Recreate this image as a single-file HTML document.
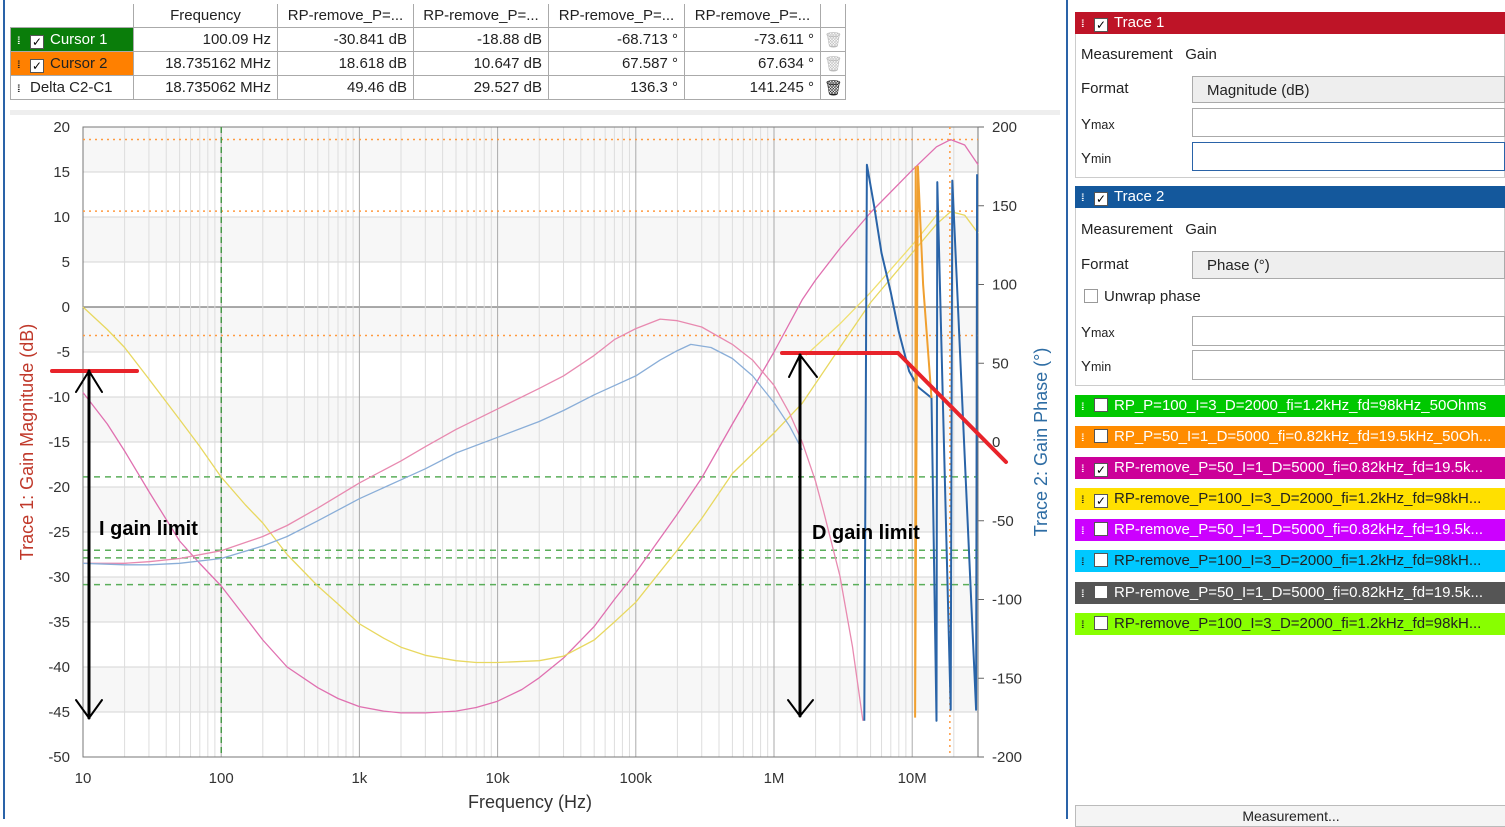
<!DOCTYPE html>
<html><head><meta charset="utf-8">
<style>
body{margin:0;width:1505px;height:819px;overflow:hidden;background:#fff;font-family:"Liberation Sans",sans-serif;font-size:15px;color:#222;position:relative}
.abs{position:absolute}
table.cur{position:absolute;left:10px;top:4px;border-collapse:collapse;font-size:15px;table-layout:fixed;width:835px}
table.cur td{border:1px solid #aaa;height:23px;padding:0 6px;text-align:right;white-space:nowrap;overflow:hidden}
table.cur tr:first-child td{text-align:center;border-top:none}
.cb{display:inline-block;width:12px;height:12px;border:1px solid #555;background:#fff;vertical-align:-2px;margin-right:6px;font-size:12px;line-height:12px;text-align:center;color:#000}
.grip{display:inline-block;width:8px;margin-right:5px;letter-spacing:-2px;font-size:10px}
.hdr{position:absolute;left:1075px;width:430px;height:22px;color:#fff;line-height:22px}
.lbl{position:absolute;left:1081px}
.box{position:absolute;left:1192px;width:313px;border:1px solid #aaa;box-sizing:border-box}
.leg{position:absolute;left:1075px;width:430px;height:22px;line-height:22px;white-space:nowrap;overflow:hidden}
</style></head><body>
<div class="abs" style="left:3px;top:0;width:2px;height:819px;background:#2a63a8"></div>
<div class="abs" style="left:1066px;top:0;width:2px;height:819px;background:#2a63a8"></div>
<div class="abs" style="left:10px;top:110px;width:1050px;height:5px;background:#eee"></div>
<table class="cur">
<colgroup><col style="width:123px"><col style="width:144px"><col style="width:136px"><col style="width:135px"><col style="width:136px"><col style="width:136px"><col style="width:25px"></colgroup>
<tr><td style="border-left:none"></td><td>Frequency</td><td>RP-remove_P=...</td><td>RP-remove_P=...</td><td>RP-remove_P=...</td><td>RP-remove_P=...</td><td></td></tr>
<tr><td style="background:#0a7d0a;color:#fff;text-align:left"><span class="grip">⁞⁞</span><span class="cb">✓</span>Cursor 1</td><td>100.09 Hz</td><td>-30.841 dB</td><td>-18.88 dB</td><td>-68.713 °</td><td>-73.611 °</td><td style="color:#bbb;padding:0 2px">🗑</td></tr>
<tr><td style="background:#ff8000;color:#222;text-align:left"><span class="grip">⁞⁞</span><span class="cb">✓</span>Cursor 2</td><td>18.735162 MHz</td><td>18.618 dB</td><td>10.647 dB</td><td>67.587 °</td><td>67.634 °</td><td style="color:#bbb;padding:0 2px">🗑</td></tr>
<tr><td style="text-align:left"><span class="grip">⁞⁞</span>Delta C2-C1</td><td>18.735062 MHz</td><td>49.46 dB</td><td>29.527 dB</td><td>136.3 °</td><td>141.245 °</td><td style="padding:0 2px">🗑</td></tr>
</table>

<svg id="chart" class="abs" style="left:0;top:0" width="1066" height="819"></svg>

<div class="hdr" style="top:12px;background:#be1427"><span class="grip" style="margin-left:6px">⁞⁞</span><span class="cb">✓</span>Trace 1</div>
<div class="abs" style="left:1075px;top:34px;width:430px;height:144px;border:1px solid #ccc;border-top:none;box-sizing:border-box"></div>
<div class="lbl" style="top:46px">Measurement&nbsp;&nbsp; Gain</div>
<div class="lbl" style="top:80px">Format</div>
<div class="box" style="top:76px;height:27px;background:#eee;padding:5px 14px">Magnitude (dB)</div>
<div class="lbl" style="top:116px">Y<small>max</small></div>
<div class="box" style="top:108px;height:29px"></div>
<div class="lbl" style="top:150px">Y<small>min</small></div>
<div class="box" style="top:142px;height:29px;border-color:#2a63a8"></div>

<div class="hdr" style="top:186px;background:#14589c"><span class="grip" style="margin-left:6px">⁞⁞</span><span class="cb">✓</span>Trace 2</div>
<div class="abs" style="left:1075px;top:208px;width:430px;height:178px;border:1px solid #ccc;border-top:none;box-sizing:border-box"></div>
<div class="lbl" style="top:221px">Measurement&nbsp;&nbsp; Gain</div>
<div class="lbl" style="top:256px">Format</div>
<div class="box" style="top:251px;height:28px;background:#eee;padding:5px 14px">Phase (°)</div>
<div class="lbl" style="top:288px;left:1084px"><span class="cb" style="border-color:#999"></span>Unwrap phase</div>
<div class="lbl" style="top:324px">Y<small>max</small></div>
<div class="box" style="top:316px;height:30px"></div>
<div class="lbl" style="top:358px">Y<small>min</small></div>
<div class="box" style="top:350px;height:30px"></div>

<div class="leg" style="top:395px;background:#00c800;color:#fff"><span class="grip" style="margin-left:6px">⁞⁞</span><span class="cb"></span>RP_P=100_I=3_D=2000_fi=1.2kHz_fd=98kHz_50Ohms</div>
<div class="leg" style="top:426px;background:#ff8c00;color:#fff"><span class="grip" style="margin-left:6px">⁞⁞</span><span class="cb"></span>RP_P=50_I=1_D=5000_fi=0.82kHz_fd=19.5kHz_50Oh...</div>
<div class="leg" style="top:457px;background:#cc0099;color:#fff"><span class="grip" style="margin-left:6px">⁞⁞</span><span class="cb">✓</span>RP-remove_P=50_I=1_D=5000_fi=0.82kHz_fd=19.5k...</div>
<div class="leg" style="top:488px;background:#ffe000;color:#222"><span class="grip" style="margin-left:6px">⁞⁞</span><span class="cb">✓</span>RP-remove_P=100_I=3_D=2000_fi=1.2kHz_fd=98kH...</div>
<div class="leg" style="top:519px;background:#cc00ff;color:#fff"><span class="grip" style="margin-left:6px">⁞⁞</span><span class="cb"></span>RP-remove_P=50_I=1_D=5000_fi=0.82kHz_fd=19.5k...</div>
<div class="leg" style="top:550px;background:#00c8ff;color:#222"><span class="grip" style="margin-left:6px">⁞⁞</span><span class="cb"></span>RP-remove_P=100_I=3_D=2000_fi=1.2kHz_fd=98kH...</div>
<div class="leg" style="top:582px;background:#555;color:#fff"><span class="grip" style="margin-left:6px">⁞⁞</span><span class="cb"></span>RP-remove_P=50_I=1_D=5000_fi=0.82kHz_fd=19.5k...</div>
<div class="leg" style="top:613px;background:#88ff00;color:#222"><span class="grip" style="margin-left:6px">⁞⁞</span><span class="cb"></span>RP-remove_P=100_I=3_D=2000_fi=1.2kHz_fd=98kH...</div>
<div class="abs" style="left:1075px;top:805px;width:430px;height:20px;border:1px solid #bbb;background:#f4f4f4;text-align:center;font-size:14px;line-height:20px">Measurement...</div>

<script>
const magTicks=[20,15,10,5,0,-5,-10,-15,-20,-25,-30,-35,-40,-45,-50];
const phaseTicks=[200,150,100,50,0,-50,-100,-150,-200];
const freqTicks=[10,100,1e3,1e4,1e5,1e6,1e7];
const freqTickLabels=["10","100","1k","10k","100k","1M","10M"];
// Trace 1 magnitude (dB)
const magAFreq=[10,15,20,30,50,70,100,150,200,300,500,700,1e3,1.5e3,2e3,3e3,5e3,7e3,1e4,1.5e4,2e4,3e4,5e4,7e4,1e5,2e5,3e5,5e5,1e6,1.6e6,2e6,3e6,5e6,1e7,1.5e7,1.9e7,2.4e7,3e7];
const magA=[-9.5,-13,-16,-20.5,-26,-28.5,-31,-34.5,-37,-40,-42.3,-43.5,-44.4,-44.9,-45.1,-45.1,-44.9,-44.5,-43.8,-42.5,-41.2,-39,-35.5,-32.5,-29.5,-23,-19,-13,-5,0.8,3,6.5,10.5,15.2,17.8,18.6,18,15.8];
const magBFreq=[10,15,20,30,50,70,100,150,200,300,500,700,1e3,1.5e3,2e3,3e3,5e3,7e3,1e4,2e4,3e4,5e4,7e4,1e5,2e5,3e5,5e5,1e6,1.6e6,2e6,3e6,5e6,1e7,1.5e7,1.9e7,2.4e7,3e7];
const magB=[0,-2.5,-4.5,-8,-12.5,-15.5,-18.9,-22,-24,-27.5,-31,-33,-35.2,-36.8,-37.8,-38.7,-39.3,-39.5,-39.5,-39.3,-38.8,-37,-35,-32.8,-27,-23.5,-18.5,-14,-10.7,-8.5,-4.5,0.5,6,9.2,10.6,10.2,8.2];
// Trace 2 phase (deg)
const phAFreq=[10,20,30,50,100,200,300,500,1e3,2e3,3e3,5e3,1e4,2e4,3e4,5e4,7e4,1e5,1.5e5,2e5,3e5,5e5,7e5,1e6,1.3e6,1.6e6,2e6,2.3e6,3e6,3.7e6,4.4e6];
const phA=[-77,-77,-76,-74,-69,-60,-53,-42,-26,-12,-3,8,21,34,42,55,65,72,78,77,73,62,52,36,18,0,-25,-45,-85,-130,-177];
const phBFreq=[10,20,30,50,100,200,300,500,1e3,2e3,3e3,5e3,1e4,2e4,3e4,5e4,1e5,1.5e5,2e5,2.5e5,3.5e5,5e5,7e5,1e6,1.3e6,1.6e6];
const phB=[-77,-78,-78,-77,-74,-66,-60,-50,-36,-24,-17,-7,3,13,20,30,42,52,58,62,60,53,42,25,10,-5];
const phWrapBFreq=[4.5e6,4.7e6,5.3e6,6e6,7e6,8e6,9.5e6,1.1e7,1.38e7,1.5e7,1.52e7,1.9e7,1.95e7,2.9e7,2.95e7];
const phWrapB=[-177,176,150,120,95,70,45,35,28,-177,165,-170,166,-170,170];
const phWrapOFreq=[1.05e7,1.1e7,1.2e7,1.38e7,null,1.06e7,1.05e7];
const phWrapO=[-175,175,100,28,null,175,-175];
const phYFreq=[1.7e6,3e6,5e6,1e7,1.6e7];
const phY=[55,75,95,125,147];

const NS="http://www.w3.org/2000/svg";
const svg=document.getElementById('chart');
const L=83,R=978,T=127,B=757;
const X=f=>L+138.2*(Math.log10(f)-1);
const Y1=d=>307-9*d;
const Y2=p=>127+(200-p)*1.575;
function el(tag,attrs,parent){const e=document.createElementNS(NS,tag);for(const k in attrs)e.setAttribute(k,attrs[k]);(parent||svg).appendChild(e);return e;}
for(let d=20;d>-50;d-=10){const r=el('rect',{x:L,y:Y1(d),width:R-L,height:45,fill:'#f7f7f7'});

}
magTicks.forEach(d=>{const l=el('line',{x1:L,x2:R,y1:Y1(d),y2:Y1(d),stroke:d===0?'#555':'#d4d4d4','stroke-width':1});


const t=el('text',{x:70,y:Y1(d)+5,'text-anchor':'end','font-size':15,fill:'#333'});t.textContent=d;

});
phaseTicks.forEach(p=>{const t=el('text',{x:992,y:Y2(p)+5,'font-size':15,fill:'#333'});t.textContent=p;


el('line',{x1:R,x2:R+6,y1:Y2(p),y2:Y2(p),stroke:'#666'});});
for(let e=1;e<8;e++){for(let m=1;m<10;m++){const f=m*Math.pow(10,e);if(X(f)>R)break;
const l=el('line',{x1:X(f),x2:X(f),y1:T,y2:B,stroke:m===1?'#aaa':'#ddd'});

}}
freqTicks.forEach((f,i)=>{const t=el('text',{x:X(f),y:783,'text-anchor':'middle','font-size':15,fill:'#333'});t.textContent=freqTickLabels[i];

});
el('rect',{x:L,y:T,width:R-L,height:B-T,fill:'none',stroke:'#777'});
[[Y1(18.618),'#ff9a40','2,4'],[Y1(10.647),'#ff9a40','2,4'],[Y2(67.6),'#ff9a40','2,4'],[Y1(-30.841),'#5aae5a','6,5'],[Y1(-18.88),'#5aae5a','6,5'],[Y2(-68.713),'#5aae5a','6,5'],[Y2(-73.611),'#5aae5a','6,5']].forEach(a=>{
const l=el('line',{x1:L,x2:R,y1:a[0],y2:a[0],stroke:a[1],'stroke-width':1.5,'stroke-dasharray':a[2]});

});
let cv=el('line',{x1:X(100.09),x2:X(100.09),y1:T,y2:B,stroke:'#4a9a4a','stroke-width':1.5,'stroke-dasharray':'6,4'});


cv=el('line',{x1:X(18.735e6),x2:X(18.735e6),y1:T,y2:B,stroke:'#ff9a40','stroke-width':1.5,'stroke-dasharray':'2,4'});


function series(fr,vals,Yf,color,name,w){let d='',pen=false;
fr.forEach((f,i)=>{if(f===null){pen=false;return;}d+=(pen?'L':'M')+X(f).toFixed(1)+','+Yf(vals[i]).toFixed(1);pen=true;});
const p=el('path',{d:d,fill:'none',stroke:color,'stroke-width':w||1.3,'stroke-linejoin':'round'});

}
series(magAFreq,magA,Y1,'#e070b0','trace1-magnitude-p50');
series(magBFreq,magB,Y1,'#e8d860','trace1-magnitude-p100');
series(phAFreq,phA,Y2,'#e88ab0','trace2-phase-p50');
series(phBFreq,phB,Y2,'#8aaed8','trace2-phase-p100');
series(phYFreq,phY,Y2,'#f0e070','trace2-phase-yellow');
series(phWrapBFreq,phWrapB,Y2,'#2a64a8','trace2-phase-wrapped-blue',2);
series(phWrapOFreq,phWrapO,Y2,'#f0a030','trace2-phase-wrapped-orange',2);
function ln(x1,y1,x2,y2,c,w,n){const l=el('line',{x1,y1,x2,y2,stroke:c,'stroke-width':w,'stroke-linecap':'round'});

}
ln(52,371,137,371,'#e8232a',4,'i-limit-line');
ln(782,353,898,353,'#e8232a',4,'d-limit-line');
ln(898,353,1006,462,'#e8232a',4,'d-limit-rolloff');
ln(89,371,89,718,'#000',3,'i-limit-arrow');
ln(76,392,89,371,'#000',2,'arrowhead');ln(102,392,89,371,'#000',2,'arrowhead');
ln(76,700,89,718,'#000',2,'arrowhead');ln(102,700,89,718,'#000',2,'arrowhead');
ln(800,355,800,716,'#000',3,'d-limit-arrow');
ln(789,377,800,355,'#000',2,'arrowhead');ln(817,377,800,355,'#000',2,'arrowhead');
ln(788,700,800,716,'#000',2,'arrowhead');ln(813,700,800,716,'#000',2,'arrowhead');
let t=el('text',{x:99,y:535,'font-size':20,'font-weight':'bold',fill:'#000'});t.textContent='I gain limit';


t=el('text',{x:812,y:539,'font-size':20,'font-weight':'bold',fill:'#000'});t.textContent='D gain limit';


t=el('text',{x:530,y:808,'text-anchor':'middle','font-size':18,fill:'#333'});t.textContent='Frequency (Hz)';


t=el('text',{x:0,y:0,'text-anchor':'middle','font-size':18,fill:'#c0392b',transform:'translate(33,442) rotate(-90)'});t.textContent='Trace 1: Gain Magnitude (dB)';


t=el('text',{x:0,y:0,'text-anchor':'middle','font-size':18,fill:'#2e6da4',transform:'translate(1047,442) rotate(-90)'});t.textContent='Trace 2: Gain Phase (°)';


</script>
</body></html>
